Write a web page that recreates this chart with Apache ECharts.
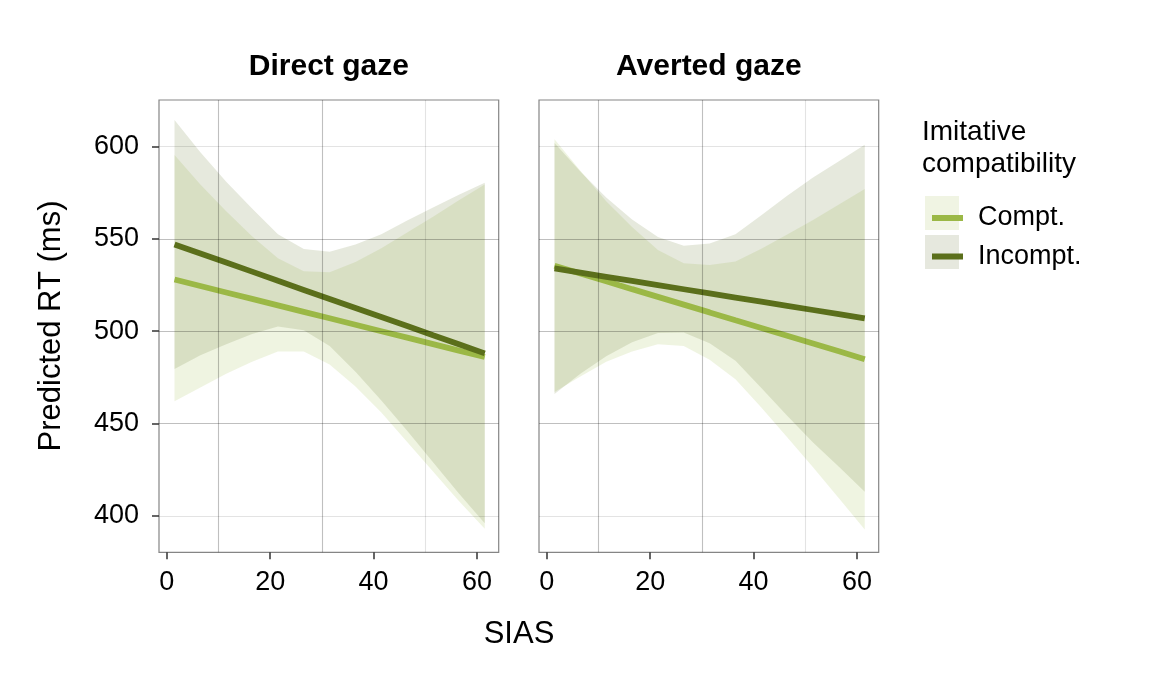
<!DOCTYPE html>
<html>
<head>
<meta charset="utf-8">
<script src="https://cdn.jsdelivr.net/npm/echarts@6/dist/echarts.min.js"></script>
<style>
  html, body { margin: 0; padding: 0; background: #fff; }
  #chart { width: 1152px; height: 691px; }
</style>
</head>
<body>
<div id="chart"></div>
<script>
// SIAS values where the predictions were computed
const SIAS = [1.5, 6.5, 11.5, 16.5, 21.5, 26.5, 31.5, 36.5, 41.5, 46.5, 51.5, 56.5, 61.5];

// Direct gaze
const directComptFit = [528, 524.5, 521, 517.5, 514, 510.5, 507, 503.5, 500, 496.5, 493, 489.5, 486];
const directComptUpper = [595.5, 579.5, 565, 551.5, 539.5, 532.5, 532, 537.5, 545, 553.5, 562, 571, 579.5];
const directComptLower = [462, 469.5, 477, 483.5, 489, 489, 482, 470, 456, 440, 424, 408, 393];
const directIncomptFit = [547, 542.1, 537.2, 532.3, 527.3, 522.4, 517.5, 512.6, 507.7, 502.8, 497.8, 492.9, 488];
const directIncomptUpper = [614.5, 597, 581, 566.5, 552.5, 544.5, 543, 547, 552.5, 560, 567, 574, 580.5];
const directIncomptLower = [479.5, 487, 493, 498.5, 502.5, 500.5, 492, 478, 462.5, 446, 429, 412, 396];

// Averted gaze
const avertedComptFit = [535.5, 531.3, 527.1, 522.8, 518.6, 514.4, 510.2, 505.9, 501.7, 497.5, 493.3, 489.1, 484.8];
const avertedComptUpper = [604, 587, 570.5, 556.5, 544, 536.8, 535.9, 537.8, 544.7, 552.4, 560.3, 568.7, 577.1];
const avertedComptLower = [467, 475.5, 483.5, 489, 493, 492, 484.5, 474, 458.7, 442.6, 426.3, 409.5, 392.5];
const avertedIncomptFit = [534, 531.75, 529.5, 527.25, 525, 522.75, 520.5, 518.25, 516, 513.75, 511.5, 509.25, 507];
const avertedIncomptUpper = [602, 586.6, 572.5, 560.6, 551, 546.3, 547.5, 552.6, 562.8, 573.4, 583.3, 592.1, 601];
const avertedIncomptLower = [466, 477, 486.5, 494, 499, 499.3, 493.5, 484, 469.2, 454.2, 439.7, 426.5, 413];

const panelTitles = ['Direct gaze', 'Averted gaze'];
const legendNames = ['Compt.', 'Incompt.'];
const X_TICKS = [0, 20, 40, 60];
const Y_TICKS = [400, 450, 500, 550, 600];
const X_MINOR = [10, 30, 50];

const FONT = '"Liberation Sans", Arial, Helvetica, sans-serif';
const COMPT = '#9bb846';
const INCOMPT = '#5b6f1b';
const COMPT_FILL = 'rgba(155,185,70,0.16)';
const INCOMPT_FILL = 'rgba(90,110,27,0.15)';
const GRID_DARK = 'rgba(0,0,0,0.25)';
const GRID_LIGHT = 'rgba(0,0,0,0.11)';

const panels = [
    { left: 159, comptFit: directComptFit, comptUp: directComptUpper, comptLo: directComptLower,
      incFit: directIncomptFit, incUp: directIncomptUpper, incLo: directIncomptLower },
    { left: 539, comptFit: avertedComptFit, comptUp: avertedComptUpper, comptLo: avertedComptLower,
      incFit: avertedIncomptFit, incUp: avertedIncomptUpper, incLo: avertedIncomptLower }
];
const PANEL_W = 339.7;
const PANEL_TOP = 100;
const PANEL_H = 452.3;

function ribbon(name, idx, upper, lower, fill) {
    return {
        type: 'custom',
        name: name,
        xAxisIndex: idx,
        yAxisIndex: idx,
        silent: true,
        z: 1,
        data: [[SIAS[0], upper[0]]],
        renderItem: function (params, api) {
            let pts = [];
            for (let i = 0; i < SIAS.length; i++) {
                pts.push(api.coord([SIAS[i], upper[i]]));
            }
            for (let i = SIAS.length - 1; i >= 0; i--) {
                pts.push(api.coord([SIAS[i], lower[i]]));
            }
            return { type: 'polygon', shape: { points: pts }, style: { fill: fill } };
        }
    };
}

function fitLine(name, idx, fit, color) {
    return {
        type: 'line',
        name: name,
        xAxisIndex: idx,
        yAxisIndex: idx,
        data: SIAS.map(function (x, i) { return [x, fit[i]]; }),
        symbol: 'none',
        z: 3,
        lineStyle: { color: color, width: 5.8, cap: 'butt' },
        itemStyle: { color: color }
    };
}

function gridLines(idx) {
    let lines = [];
    X_MINOR.forEach(function (v) {
        lines.push({ xAxis: v, lineStyle: { color: v === 50 ? GRID_LIGHT : GRID_DARK, width: 1.1, type: 'solid' } });
    });
    Y_TICKS.forEach(function (v) {
        let light = (v === 400 || v === 600);
        lines.push({ yAxis: v, lineStyle: { color: light ? GRID_LIGHT : GRID_DARK, width: 1.1, type: 'solid' } });
    });
    return {
        type: 'line',
        name: 'grid' + idx,
        xAxisIndex: idx,
        yAxisIndex: idx,
        data: [],
        z: 2,
        silent: true,
        markLine: {
            silent: true,
            symbol: ['none', 'none'],
            label: { show: false },
            animation: false,
            data: lines
        }
    };
}

let grids = [], xAxes = [], yAxes = [], series = [];
panels.forEach(function (p, idx) {
    grids.push({
        left: p.left, top: PANEL_TOP, width: PANEL_W, height: PANEL_H,
        show: true, borderColor: '#858585', borderWidth: 1.2, backgroundColor: '#fff'
    });
    xAxes.push({
        type: 'value', gridIndex: idx, min: -1.5, max: 64.2,
        splitLine: { show: false },
        axisLine: { show: false, onZero: false },
        axisTick: { show: true, length: 7, customValues: X_TICKS, lineStyle: { color: '#333', width: 1.5 } },
        axisLabel: { customValues: X_TICKS, fontSize: 27, color: '#000', margin: 17, fontFamily: FONT }
    });
    yAxes.push({
        type: 'value', gridIndex: idx, min: 380.2, max: 625.3,
        splitLine: { show: false },
        axisLine: { show: false, onZero: false },
        axisTick: { show: idx === 0, length: 7, customValues: Y_TICKS, lineStyle: { color: '#333', width: 1.5 } },
        axisLabel: { show: idx === 0, customValues: Y_TICKS, fontSize: 27, color: '#000', margin: 20, fontFamily: FONT }
    });
    series.push(ribbon('Compt. CI', idx, p.comptUp, p.comptLo, COMPT_FILL));
    series.push(ribbon('Incompt. CI', idx, p.incUp, p.incLo, INCOMPT_FILL));
    series.push(gridLines(idx));
    series.push(fitLine(legendNames[0], idx, p.comptFit, COMPT));
    series.push(fitLine(legendNames[1], idx, p.incFit, INCOMPT));
});

let graphics = [];
panels.forEach(function (p, idx) {
    graphics.push({
        type: 'text', x: p.left + PANEL_W / 2, y: 67,
        style: { text: panelTitles[idx], fill: '#000', font: 'bold 30px ' + FONT, textAlign: 'center', textVerticalAlign: 'middle' }
    });
});
graphics.push({
    type: 'text', x: 519, y: 634.5,
    style: { text: 'SIAS', fill: '#000', font: '31px ' + FONT, textAlign: 'center', textVerticalAlign: 'middle' }
});
graphics.push({
    type: 'text', x: 51, y: 326, rotation: Math.PI / 2,
    style: { text: 'Predicted RT (ms)', fill: '#000', font: '31px ' + FONT, textAlign: 'center', textVerticalAlign: 'middle' }
});
graphics.push({
    type: 'text', x: 922, y: 132,
    style: { text: 'Imitative', fill: '#000', font: '28px ' + FONT, textAlign: 'left', textVerticalAlign: 'middle' }
});
graphics.push({
    type: 'text', x: 922, y: 164,
    style: { text: 'compatibility', fill: '#000', font: '28px ' + FONT, textAlign: 'left', textVerticalAlign: 'middle' }
});
// legend key backgrounds (ribbon colours)
graphics.push({ type: 'rect', z: 1, shape: { x: 925, y: 196, width: 34, height: 34 }, style: { fill: '#f0f4e3' } });
graphics.push({ type: 'rect', z: 1, shape: { x: 925, y: 235, width: 34, height: 34 }, style: { fill: '#e6e8de' } });

var myChart = echarts.init(document.getElementById('chart'));

var option = {
    backgroundColor: '#fff',
    animation: false,
    grid: grids,
    xAxis: xAxes,
    yAxis: yAxes,
    legend: {
        data: legendNames,
        orient: 'vertical',
        left: 927,
        top: 198,
        icon: 'rect',
        itemWidth: 31,
        itemHeight: 6,
        itemGap: 8.5,
        selectedMode: false,
        textStyle: { fontSize: 27, color: '#000', fontFamily: FONT, lineHeight: 30, padding: [0, 0, 0, 10] }
    },
    graphic: graphics,
    series: series
};

myChart.setOption(option);
</script>
</body>
</html>
